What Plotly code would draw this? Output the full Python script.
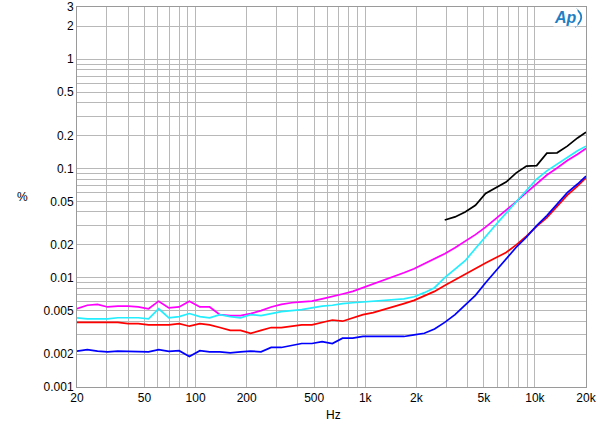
import plotly.graph_objects as go

freq = [20, 23, 26.4, 30.3, 34.8, 40, 45.9, 52.8, 60.6, 69.6, 80, 91.9, 106, 121, 139,
        160, 184, 211, 243, 279, 320, 368, 422, 485, 557, 640, 735, 844, 970, 1114,
        1280, 1470, 1690, 1940, 2230, 2560, 2940, 3380, 3880, 4460, 5120, 5880, 6760,
        7760, 8910, 10240, 11760, 13510, 15520, 17830, 20000]

magenta = [0.0052, 0.0056, 0.0057, 0.0054, 0.0055, 0.0055, 0.0054, 0.0052, 0.0061, 0.0053,
           0.0054, 0.0061, 0.0054, 0.0054, 0.0046, 0.0045, 0.0045, 0.0047, 0.0050, 0.0054,
           0.0057, 0.0059, 0.0060, 0.0061, 0.0064, 0.0067, 0.0071, 0.0075, 0.0081, 0.0088,
           0.0095, 0.0102, 0.0111, 0.0121, 0.0134, 0.0148, 0.0166, 0.0188, 0.0215, 0.0248,
           0.0290, 0.0345, 0.0410, 0.0497, 0.060, 0.072, 0.087, 0.101, 0.118, 0.135, 0.152]

cyan = [0.0043, 0.0042, 0.0042, 0.0042, 0.0043, 0.0043, 0.0043, 0.0042, 0.0052, 0.0043,
        0.0044, 0.0047, 0.0044, 0.0043, 0.0046, 0.0044, 0.0043, 0.0046, 0.0045, 0.0047,
        0.0049, 0.0050, 0.0051, 0.0053, 0.0055, 0.0056, 0.0058, 0.0059, 0.0060, 0.0061,
        0.0062, 0.0063, 0.0064, 0.0067, 0.0073, 0.0081, 0.0100, 0.0120, 0.0143, 0.0185,
        0.0240, 0.0305, 0.0390, 0.0497, 0.062, 0.080, 0.095, 0.110, 0.126, 0.145, 0.160]

red = [0.0039, 0.0039, 0.0039, 0.0039, 0.0039, 0.0038, 0.0038, 0.0037, 0.0037, 0.0037,
       0.0038, 0.0036, 0.0038, 0.0037, 0.0035, 0.0033, 0.0033, 0.0031, 0.0033, 0.0035,
       0.0035, 0.0036, 0.0037, 0.0037, 0.0039, 0.0041, 0.0040, 0.0043, 0.0046, 0.0048,
       0.0051, 0.0054, 0.0058, 0.0062, 0.0068, 0.0075, 0.0085, 0.0096, 0.0108, 0.0121,
       0.0136, 0.0152, 0.0170, 0.0200, 0.0240, 0.0295, 0.0355, 0.0450, 0.057, 0.069, 0.082]

blue = [0.00213, 0.0022, 0.00213, 0.0021, 0.00213, 0.00213, 0.0021, 0.0021, 0.0022, 0.00212,
        0.00215, 0.0019, 0.00215, 0.0021, 0.0021, 0.00205, 0.0021, 0.00213, 0.0021, 0.0023,
        0.0023, 0.0024, 0.0025, 0.0025, 0.0026, 0.0025, 0.0028, 0.0028, 0.0029, 0.0029,
        0.0029, 0.0029, 0.0029, 0.0030, 0.0031, 0.0034, 0.0039, 0.0046, 0.0056, 0.0069,
        0.0090, 0.0116, 0.0148, 0.0190, 0.0235, 0.0300, 0.0370, 0.0470, 0.0600, 0.072, 0.085]

black_freq = [2940, 3380, 3880, 4460, 5120, 5880, 6760, 7760, 8910, 10240, 11760, 13510,
              15520, 17830, 20000]
black = [0.0337, 0.036, 0.040, 0.046, 0.059, 0.066, 0.075, 0.091, 0.105, 0.106, 0.138,
         0.139, 0.160, 0.190, 0.215]

x_grid = [20, 30, 40, 50, 60, 70, 80, 90, 100, 200, 300, 400, 500, 600, 700, 800, 900,
          1000, 2000, 3000, 4000, 5000, 6000, 7000, 8000, 9000, 10000, 20000]
x_labels = {20: "20", 50: "50", 100: "100", 200: "200", 500: "500", 1000: "1k",
            2000: "2k", 5000: "5k", 10000: "10k", 20000: "20k"}
y_grid = [0.001, 0.002, 0.003, 0.004, 0.005, 0.006, 0.007, 0.008, 0.009,
          0.01, 0.02, 0.03, 0.04, 0.05, 0.06, 0.07, 0.08, 0.09,
          0.1, 0.2, 0.3, 0.4, 0.5, 0.6, 0.7, 0.8, 0.9, 1, 2, 3]
y_labels = {0.001: "0.001", 0.002: "0.002", 0.005: "0.005", 0.01: "0.01", 0.02: "0.02",
            0.05: "0.05", 0.1: "0.1", 0.2: "0.2", 0.5: "0.5", 1: "1", 2: "2", 3: "3"}

fig = go.Figure()
series = [(freq, magenta, "#ff00ff"), (freq, cyan, "#22eeff"), (freq, red, "#ff0000"),
          (freq, blue, "#0000ff"), (black_freq, black, "#000000")]
for xs, ys, col in series:
    fig.add_trace(go.Scatter(x=xs, y=ys, mode="lines", line=dict(color=col, width=1.7),
                             showlegend=False, hoverinfo="skip"))

font = dict(family="Liberation Sans, Arial, sans-serif", size=12, color="#000000")
W, H = 600, 427
L, R, T, B = 77, 14, 7, 40
pw, ph = W - L - R, H - T - B


def px(x):
    return (x - L) / pw


def py(y):
    return (H - B - y) / ph


fig.update_layout(
    width=W, height=H,
    margin=dict(l=L, r=R, t=T, b=B),
    paper_bgcolor="white", plot_bgcolor="white",
    font=font,
    xaxis=dict(type="log", range=[1.30103, 4.30103], automargin=False,
               tickvals=x_grid, ticktext=[x_labels.get(v, "") for v in x_grid],
               showgrid=True, gridcolor="#b8b8b8", gridwidth=1,
               showline=True, linecolor="#9a9a9a", linewidth=1, mirror=True,
               ticks="", zeroline=False, tickfont=font),
    yaxis=dict(type="log", range=[-3, 0.4771], automargin=False,
               tickvals=y_grid, ticktext=[y_labels.get(v, "") for v in y_grid],
               showgrid=True, gridcolor="#b8b8b8", gridwidth=1,
               showline=True, linecolor="#9a9a9a", linewidth=1, mirror=True,
               ticks="", zeroline=False, tickfont=font),
    annotations=[
        dict(text="%", x=px(22), y=py(197), xref="paper", yref="paper", showarrow=False,
             font=font, xanchor="center", yanchor="middle"),
        dict(text="Hz", xref="paper", yref="paper", x=px(333), y=py(415), showarrow=False,
             font=font, xanchor="center", yanchor="middle"),
        dict(text="<b><i>Ap</i></b>", xref="paper", yref="paper", x=px(565), y=py(18),
             showarrow=False, xanchor="center", yanchor="middle", bgcolor="white",
             borderpad=0,
             font=dict(family="Liberation Sans, Arial, sans-serif", size=16,
                       color="#1e7fc4")),
    ],
    shapes=[
        dict(type="path", xref="paper", yref="paper", layer="above",
             path=f"M {px(576)},{py(9)} Q {px(587)},{py(17)} {px(575)},{py(27)}",
             line=dict(color="#1e7fc4", width=1.8)),
    ],
)
fig.write_html("out.html", config={"displayModeBar": False},
               post_script="document.body.style.margin='0';")
